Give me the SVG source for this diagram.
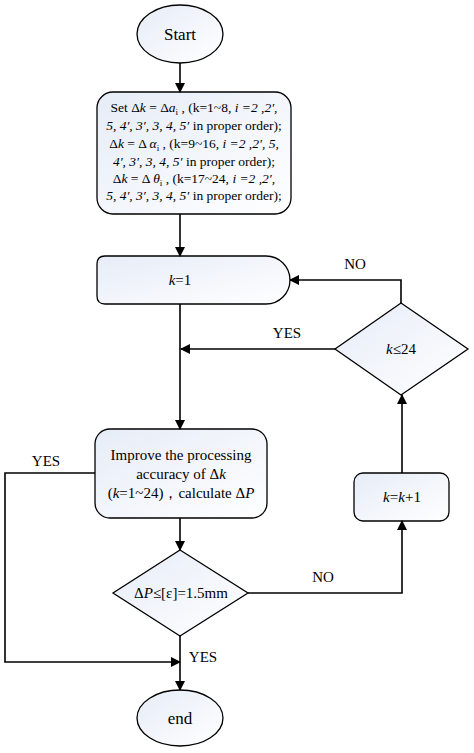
<svg xmlns="http://www.w3.org/2000/svg" width="474" height="753" viewBox="0 0 474 753" font-family="'Liberation Serif', 'DejaVu Serif', 'Times New Roman', serif">
<defs>
<linearGradient id="fill" x1="0" y1="0" x2="1" y2="1">
<stop offset="0" stop-color="#e6ecf7"/>
<stop offset="1" stop-color="#ffffff"/>
</linearGradient>
<marker id="arr" markerWidth="10" markerHeight="10" refX="9" refY="5" orient="auto" markerUnits="userSpaceOnUse">
<path d="M0,0 L10,5 L0,10 Z" fill="#000"/>
</marker>
</defs>
<style>
.shape{fill:url(#fill);stroke:#000;stroke-width:1.3}
.line{fill:none;stroke:#000;stroke-width:1.6;marker-end:url(#arr)}
text{font-family:'Liberation Serif','DejaVu Serif','Times New Roman',serif;fill:#000}
.t{font-size:15px}
.s{font-size:13.5px}
.big{font-size:17px}
.i{font-style:italic}
</style>
<rect width="474" height="753" fill="#fff"/>
<g id="start">
<ellipse class="shape" cx="180" cy="34" rx="43" ry="29"/>
<text class="big" x="180" y="40" text-anchor="middle">Start</text>
</g>
<g id="set">
<rect class="shape" x="97" y="92" width="194" height="122" rx="16"/>
<text class="s" x="194" y="112" text-anchor="middle">Set Δ<tspan class="i">k</tspan> = Δ<tspan class="i">a</tspan><tspan font-size="9" dy="3">i</tspan><tspan dy="-3"> , (k=1~8,  </tspan><tspan class="i">i =2 ,2′,</tspan></text>
<text class="s" x="194" y="130" text-anchor="middle"><tspan class="i">5, 4′, 3′, 3, 4, 5′</tspan> in proper order);</text>
<text class="s" x="194" y="148" text-anchor="middle">Δ<tspan class="i">k</tspan> = Δ <tspan class="i">α</tspan><tspan font-size="9" dy="3">i</tspan><tspan dy="-3"> , (k=9~16,  </tspan><tspan class="i">i =2 ,2′, 5,</tspan></text>
<text class="s" x="194" y="166" text-anchor="middle"><tspan class="i">4′, 3′, 3, 4, 5′</tspan> in proper order);</text>
<text class="s" x="194" y="183" text-anchor="middle">Δ<tspan class="i">k</tspan> = Δ <tspan class="i">θ</tspan><tspan font-size="9" dy="3">i</tspan><tspan dy="-3"> , (k=17~24,  </tspan><tspan class="i">i =2 ,2′,</tspan></text>
<text class="s" x="194" y="200" text-anchor="middle"><tspan class="i">5, 4′, 3′, 3, 4, 5′</tspan> in proper order);</text>
</g>
<g id="k1">
<path class="shape" d="M105,256 L266,256 A24,24 0 0 1 266,304 L105,304 Q97,304 97,296 L97,264 Q97,256 105,256 Z"/>
<text class="t" x="180" y="285" text-anchor="middle"><tspan class="i">k</tspan>=1</text>
</g>
<g id="check24">
<polygon class="shape" points="401,303 468,349 401,395 335,349"/>
<text class="t" x="401" y="354" text-anchor="middle"><tspan class="i">k</tspan>≤24</text>
</g>
<g id="improve">
<rect class="shape" x="95" y="429" width="172" height="89" rx="15"/>
<text class="t" x="181" y="460" text-anchor="middle">Improve the processing</text>
<text class="t" x="181" y="479" text-anchor="middle">accuracy of Δ<tspan class="i">k</tspan></text>
<text class="t" x="181" y="498" text-anchor="middle">(<tspan class="i">k</tspan>=1~24)，calculate Δ<tspan class="i">P</tspan></text>
</g>
<g id="inc">
<rect class="shape" x="354" y="473" width="95" height="48" rx="9"/>
<text class="t" x="402" y="502" text-anchor="middle"><tspan class="i">k</tspan>=<tspan class="i">k</tspan>+1</text>
</g>
<g id="checkP">
<polygon class="shape" points="180,550 248,593 180,636 113,593"/>
<text class="t" x="181" y="598" text-anchor="middle">Δ<tspan class="i">P</tspan>≤[ε]=1.5mm</text>
</g>
<g id="end">
<ellipse class="shape" cx="180" cy="718" rx="43" ry="28"/>
<text class="big" x="180" y="724" text-anchor="middle">end</text>
</g>
<g id="connectors">
<line class="line" x1="180" y1="63" x2="180" y2="92"/>
<line class="line" x1="180" y1="214" x2="180" y2="256"/>
<line class="line" x1="180" y1="304" x2="180" y2="429"/>
<polyline class="line" points="401,303 401,280 290,280"/>
<line class="line" x1="335" y1="349" x2="181" y2="349"/>
<line class="line" x1="180" y1="518" x2="180" y2="550"/>
<polyline class="line" points="248,593 402,593 402,521"/>
<line class="line" x1="402" y1="473" x2="402" y2="395"/>
<polyline class="line" points="95,473 5,473 5,662 180,662"/>
<line class="line" x1="180" y1="636" x2="180" y2="690"/>
</g>
<g id="labels">
<text class="t" x="355" y="269" text-anchor="middle">NO</text>
<text class="t" x="287" y="338" text-anchor="middle">YES</text>
<text class="t" x="46" y="466" text-anchor="middle">YES</text>
<text class="t" x="323" y="582" text-anchor="middle">NO</text>
<text class="t" x="203" y="662" text-anchor="middle">YES</text>
</g>
</svg>
